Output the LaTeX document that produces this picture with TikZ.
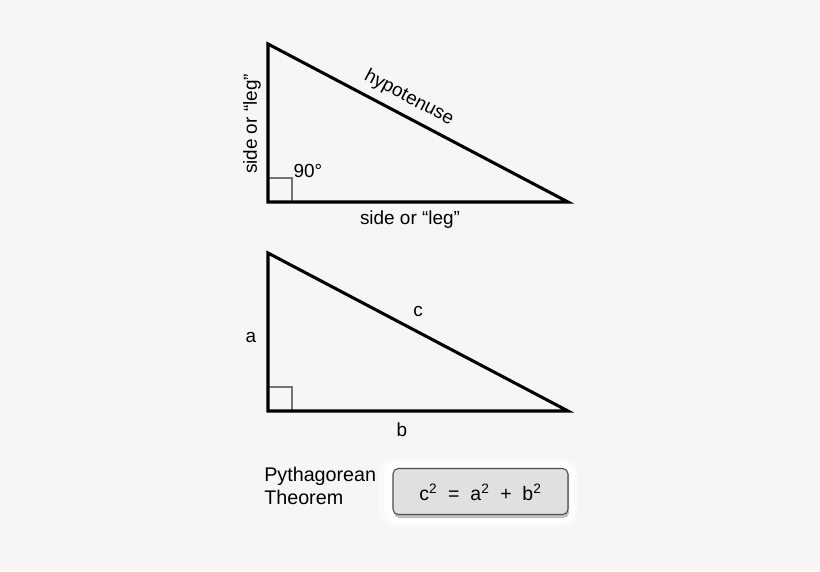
\documentclass[tikz,border=0pt]{standalone}
\usepackage{fontspec}
\setmainfont{Liberation Sans}
\begin{document}
\begin{tikzpicture}[x=0.75pt,y=-0.75pt,
  leg/.style={line width=2.3pt,line cap=round,line join=miter},
  rsq/.style={draw=black!55,line width=1pt},
  lbl/.style={font=\fontsize{14.2}{16}\selectfont,inner sep=0pt},
  eqbox/.style={draw=black!70,line width=0.8pt,fill=black!12,rounded corners=4pt}]
\fill[black!3.5] (0,0) rectangle (820,571);
\useasboundingbox (0,0) rectangle (820,571);
% triangle 1
\coordinate (A1) at (268,44);
\coordinate (B1) at (268,202);
\coordinate (C1) at (568,202);
\draw[rsq] (268,178) -| (292,202);
\draw[leg] (A1) -- (B1) -- (C1) -- cycle;
\node[lbl] (n90) at (308,171) {90\textdegree};
\node[lbl,rotate=90] (s1) at (252,124) {side or “leg”};
\node[lbl] (s2) at (410,220) {side or “leg”};
\node[lbl,rotate=-27.8] (hyp) at (409,98) {hypotenuse};
% triangle 2
\coordinate (A2) at (268,253);
\coordinate (B2) at (268,411);
\coordinate (C2) at (568,411);
\draw[rsq] (268,387) -| (292,411);
\draw[leg] (A2) -- (B2) -- (C2) -- cycle;
\node[lbl] (la) at (251,337) {a};
\node[lbl] (lc) at (418,311) {c};
\node[lbl] (lb) at (402,430) {b};
% theorem
\node[font=\fontsize{14.8}{17.5}\selectfont,align=left,anchor=north west,inner sep=0pt] (pt) at (264,467) {Pythagorean\\Theorem};
\fill[white,opacity=0.5,rounded corners=12pt] (379,459) rectangle (578,527);
\fill[white,opacity=0.8,rounded corners=9pt] (384,462) rectangle (574,523);
\fill[black!25,rounded corners=4pt] (394,470) rectangle (569,518);
\node[eqbox,minimum width=175pt*0.75,minimum height=46pt*0.75] (eq) at (480.5,491.5) {};
\node[font=\fontsize{14.6}{17}\selectfont,inner sep=0pt] (eqt) at (480.5,492) {c\textsuperscript{2}\ \ =\ \ a\textsuperscript{2}\ \ +\ \ b\textsuperscript{2}};
\end{tikzpicture}
\end{document}
